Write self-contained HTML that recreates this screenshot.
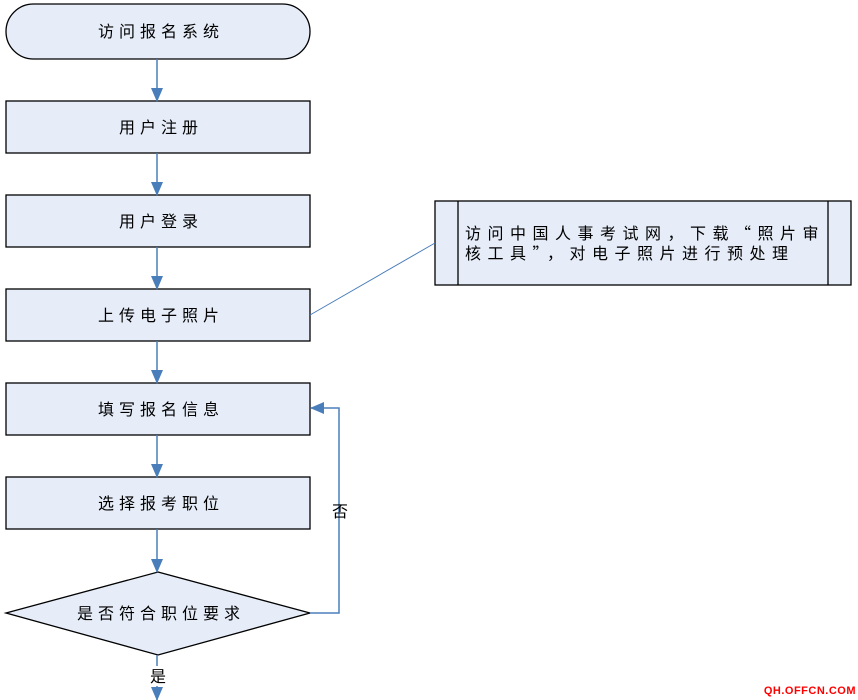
<!DOCTYPE html>
<html><head><meta charset="utf-8"><style>
html,body{margin:0;padding:0;background:#fff;}
svg{display:block;}
text{font-family:"Liberation Sans","Noto Sans CJK SC",sans-serif;font-size:16px;fill:#000;}
.cjk{font-family:"Noto Sans CJK SC",sans-serif;}
</style></head><body>
<svg width="858" height="700" viewBox="0 0 858 700" xmlns="http://www.w3.org/2000/svg">
<defs>
<marker id="a" markerWidth="14" markerHeight="12" refX="13" refY="6" orient="auto" markerUnits="userSpaceOnUse"><path d="M0,0 L14,6 L0,12 z" fill="#4a7ebb"/></marker>
</defs>
<g fill="#e6edf8" stroke="#000" stroke-width="1.3">
<rect x="6" y="4" width="304" height="55" rx="27.5"/>
<rect x="6" y="101" width="304" height="52"/>
<rect x="6" y="195" width="304" height="52"/>
<rect x="6" y="289" width="304" height="52"/>
<rect x="6" y="383" width="304" height="52"/>
<rect x="6" y="477" width="304" height="52"/>
<polygon points="158,572 310,613 158,655 6,613"/>
<rect x="435" y="201" width="416" height="84"/>
<line x1="458" y1="201" x2="458" y2="285"/>
<line x1="828" y1="201" x2="828" y2="285"/>
</g>
<g stroke="#4a7ebb" stroke-width="1.5" fill="none" marker-end="url(#a)">
<line x1="157" y1="59" x2="157" y2="101"/>
<line x1="157" y1="153" x2="157" y2="195"/>
<line x1="157" y1="247" x2="157" y2="289"/>
<line x1="157" y1="341" x2="157" y2="383"/>
<line x1="157" y1="435" x2="157" y2="477"/>
<line x1="157" y1="529" x2="157" y2="572"/>
<line x1="157" y1="655" x2="157" y2="666" marker-end="none"/>
<line x1="157" y1="686" x2="157" y2="700"/>
<polyline points="310,613 339,613 339,408 311,408"/>
</g>
<line x1="310" y1="315" x2="435" y2="243" stroke="#4a7ebb" stroke-width="1"/>
<g text-anchor="middle" style="letter-spacing:5px">
<text x="161" y="37">访问报名系统</text>
<text x="161" y="133">用户注册</text>
<text x="161" y="227">用户登录</text>
<text x="161" y="321">上传电子照片</text>
<text x="161" y="415">填写报名信息</text>
<text x="161" y="509">选择报考职位</text>
<text x="161" y="619">是否符合职位要求</text>
</g>
<text x="340" y="517" text-anchor="middle">否</text>
<rect x="148" y="666" width="20" height="20" fill="#fff"/>
<text x="158" y="682" text-anchor="middle">是</text>
<text class="cjk" x="465" y="239" style="letter-spacing:6.5px;font-size:16px">访问中国人事考试网，下载“照片审</text>
<text class="cjk" x="465" y="259" style="letter-spacing:6.5px;font-size:16px">核工具”，对电子照片进行预处理</text>
<text x="856" y="694" text-anchor="end" style="font-size:11px;font-weight:bold;fill:#ff0000;letter-spacing:0.5px">QH.OFFCN.COM</text>
</svg>
</body></html>
